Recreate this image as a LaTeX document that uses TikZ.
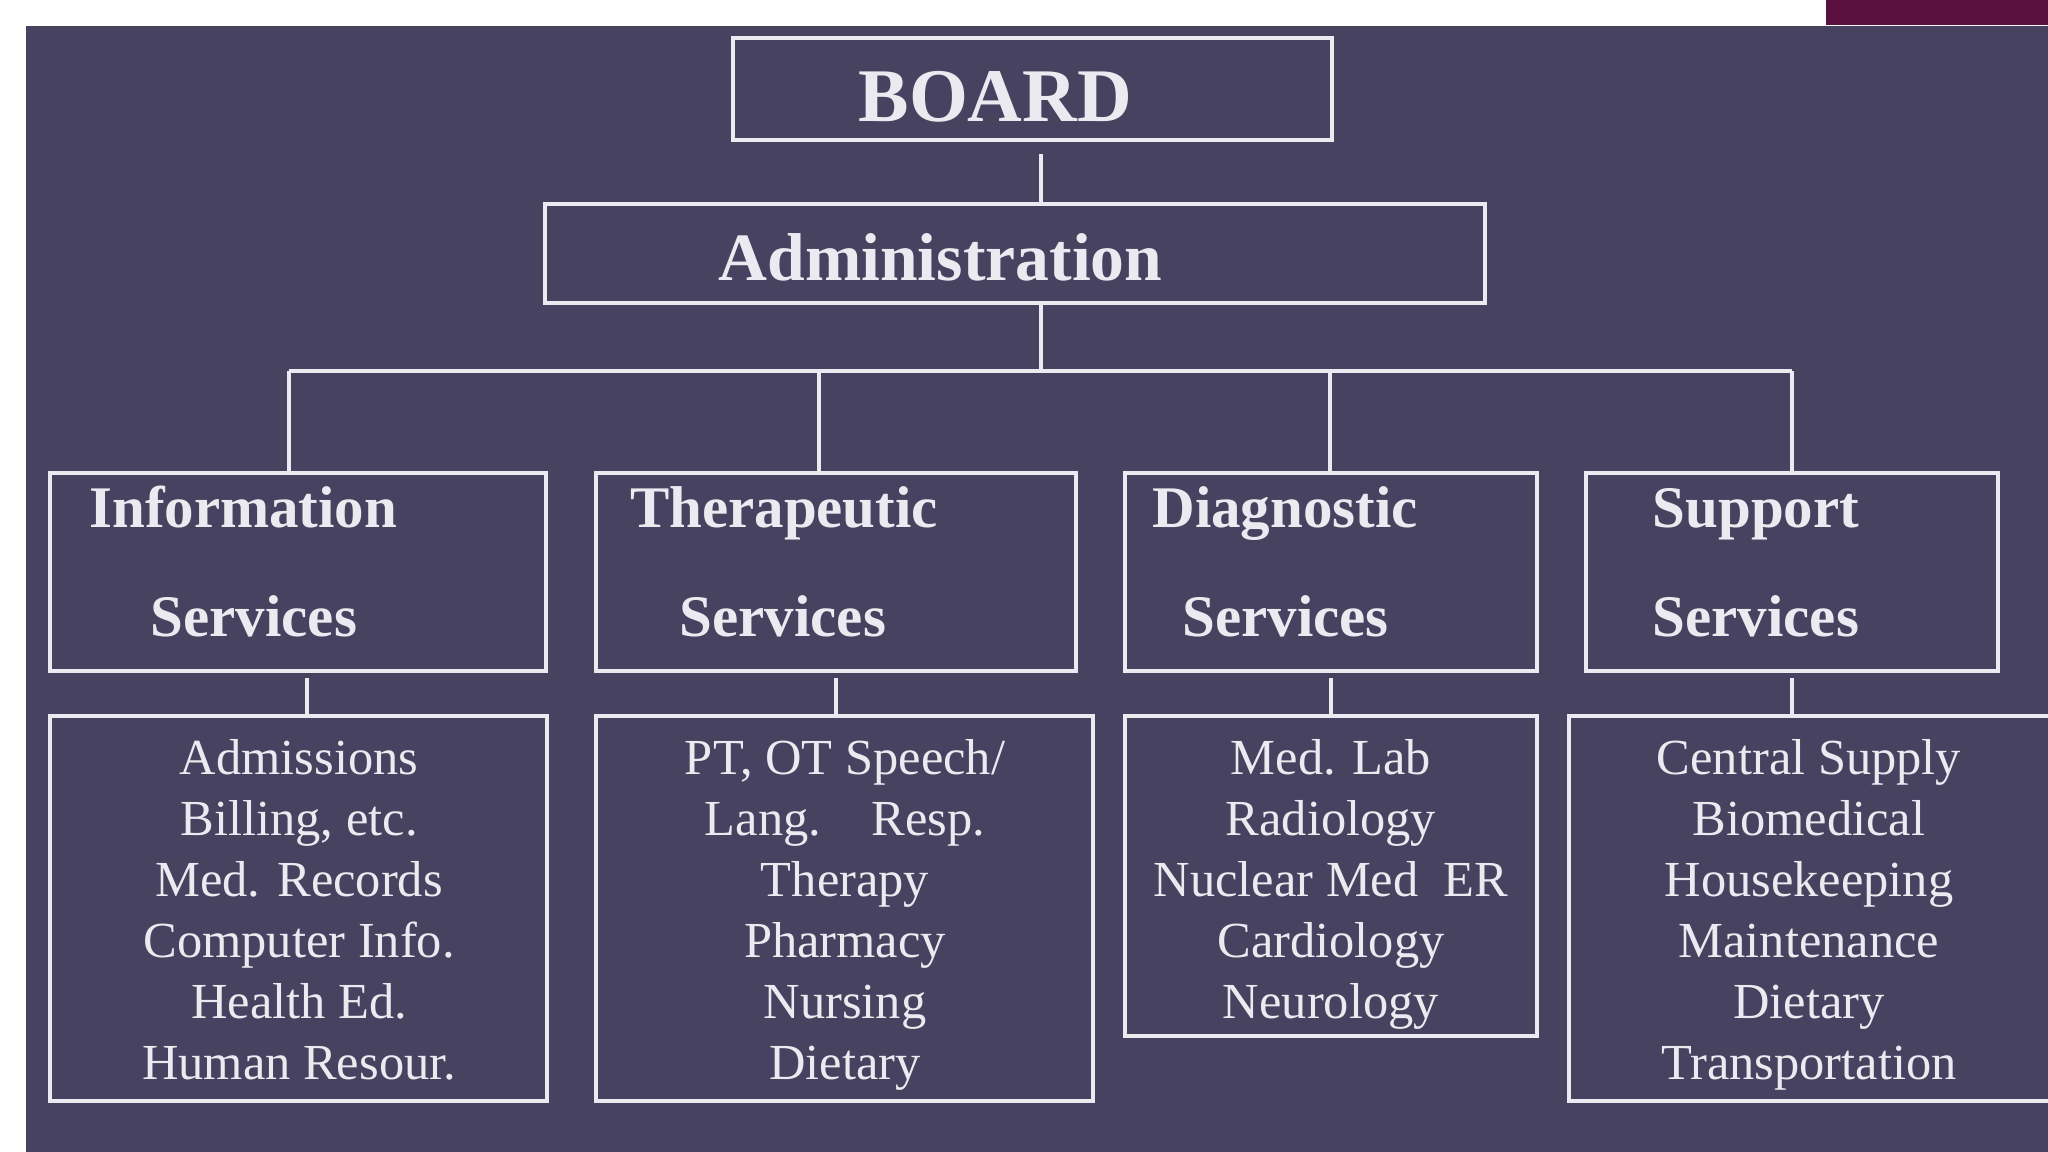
\documentclass[tikz,border=0pt]{standalone}
\usepackage{fontspec}
\setmainfont{Liberation Serif}
\begin{document}
\begin{tikzpicture}[x=0.02cm,y=-0.02cm,
  box/.style={draw=linec,line width=1.7pt,rectangle,inner sep=0pt},
  conn/.style={draw=linec,line width=1.7pt},
  head/.style={text=linec,font=\bfseries\fontsize{25.7}{30}\selectfont,anchor=base west,inner sep=0pt},
  body/.style={text=linec,font=\fontsize{22}{26.6}\selectfont,align=center,anchor=north}]
\definecolor{bg}{HTML}{47425F}
\definecolor{linec}{HTML}{ECEAF0}
\definecolor{mag}{HTML}{5A1142}
\useasboundingbox (0,0) rectangle (1568,882);
\fill[white] (0,0) rectangle (1568,882);
\fill[bg] (20,20) rectangle (1568,882);
\fill[mag] (1398,0) rectangle (1568,19);
% top
\node[box,minimum width=9.18cm,minimum height=1.56cm] (board) at (790.5,68) {};
\node[text=linec,font=\bfseries\fontsize{33}{36}\selectfont] (boardt) at (762,74) {BOARD};
\node[box,minimum width=14.4cm,minimum height=1.52cm] (admin) at (777,194) {};
\node[text=linec,font=\bfseries\fontsize{29.5}{33}\selectfont] (admint) at (720,197) {Administration};
\coordinate (b1) at (797,118);
\draw[conn] (b1) -- (admin.north -| b1);
\coordinate (a1) at (797,284);
\draw[conn] (admin.south -| a1) -- (a1);
% mid boxes
\node[box,minimum width=7.6cm,minimum height=3.04cm] (info) at (228,438) {};
\node[box,minimum width=7.36cm,minimum height=3.04cm] (ther) at (640,438) {};
\node[box,minimum width=6.32cm,minimum height=3.04cm] (diag) at (1019,438) {};
\node[box,minimum width=6.32cm,minimum height=3.04cm] (supp) at (1372,438) {};
\coordinate (h1) at (221,284);
\coordinate (h2) at (627,284);
\coordinate (h3) at (1018,284);
\coordinate (h4) at (1372,284);
\draw[conn] (h1) -- (h4);
\draw[conn] (h1) -- (info.north -| h1);
\draw[conn] (h2) -- (ther.north -| h2);
\draw[conn] (h3) -- (diag.north -| h3);
\draw[conn] (h4) -- (supp.north -| h4);
\node[head] (i1) at (68,404) {Information};
\node[head] (i2) at (115,487) {Services};
\node[head] (t1) at (482,404) {Therapeutic};
\node[head] (t2) at (520,487) {Services};
\node[head] (d1) at (882,404) {Diagnostic};
\node[head] (d2) at (905,487) {Services};
\node[head] (s1) at (1265,404) {Support};
\node[head] (s2) at (1265,487) {Services};
% bottom boxes
\node[box,minimum width=7.62cm,minimum height=5.9cm] (infob) at (228.5,695.5) {};
\node[box,minimum width=7.62cm,minimum height=5.9cm] (therb) at (646.5,695.5) {};
\node[box,minimum width=6.32cm,minimum height=4.9cm] (diagb) at (1019,670.5) {};
\node[box,minimum width=7.4cm,minimum height=5.9cm] (suppb) at (1386,695.5) {};
\coordinate (c1) at (235,519);
\coordinate (c2) at (640,519);
\coordinate (c3) at (1019,519);
\coordinate (c4) at (1372,519);
\draw[conn] (c1) -- (infob.north -| c1);
\draw[conn] (c2) -- (therb.north -| c2);
\draw[conn] (c3) -- (diagb.north -| c3);
\draw[conn] (c4) -- (suppb.north -| c4);
\node[body] (ib) at (229,560) {Admissions\\Billing, etc.\\Med. Records\\Computer Info.\\Health Ed.\\Human Resour.};
\node[body] (tb) at (647,560) {PT, OT Speech/\\Lang.\quad Resp.\\Therapy\\Pharmacy\\Nursing\\Dietary};
\node[body] (db) at (1019,560) {Med. Lab\\Radiology\\Nuclear Med\enspace ER\\Cardiology\\Neurology};
\node[body] (sb) at (1385,560) {Central Supply\\Biomedical\\Housekeeping\\Maintenance\\Dietary\\Transportation};
\end{tikzpicture}
\end{document}
